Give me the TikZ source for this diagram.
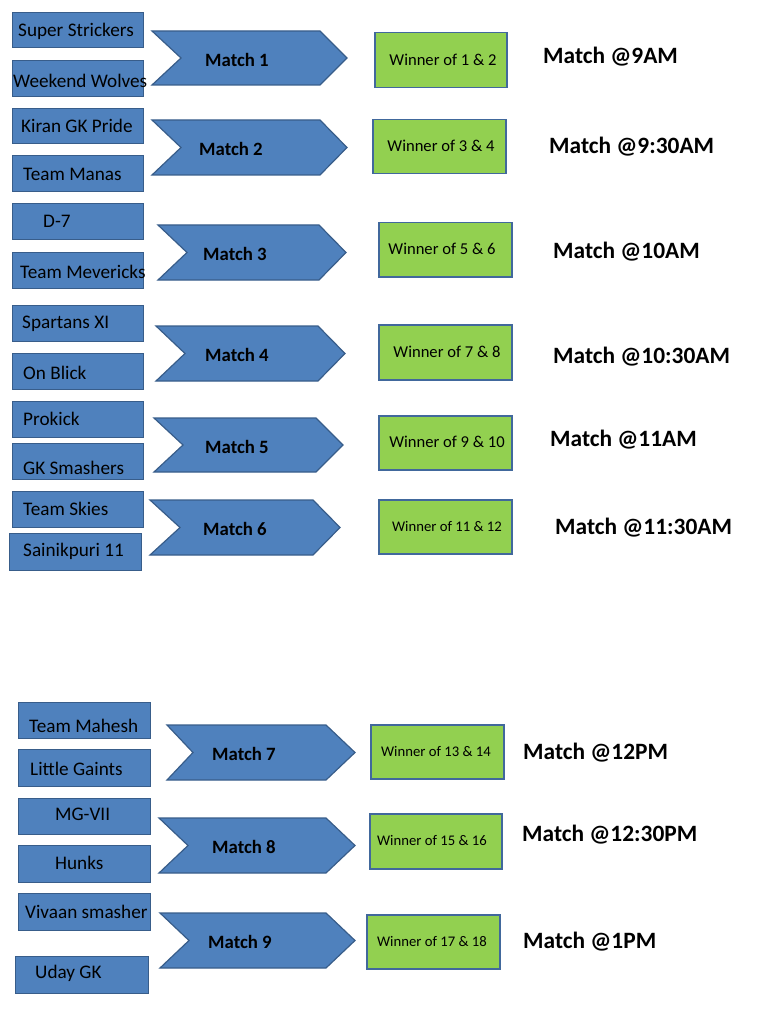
\documentclass[tikz,border=0pt]{standalone}
\usepackage{fontspec}
\setmainfont{Carlito}
\definecolor{tblue}{HTML}{4F81BD}
\definecolor{tborder}{HTML}{385D8A}
\definecolor{tgreen}{HTML}{92D050}
\definecolor{gborder}{HTML}{41689C}
\tikzset{
  teambox/.style={fill=tblue,draw=tborder,line width=1.2pt},
  chev/.style={fill=tblue,draw=tborder,line width=1.2pt,line join=miter},
  winbox/.style={fill=tgreen,draw=gborder,line width=1.5pt},
  teamtxt/.style={anchor=west,inner sep=0pt,yshift=-1.5pt,font=\fontsize{19.2}{21}\selectfont},
  matchtxt/.style={inner sep=0pt,yshift=-1.5pt,font=\bfseries\fontsize{18.8}{21}\selectfont},
  wintxt/.style={inner sep=0pt,font=\fontsize{16.6}{18}\selectfont},
  winsmall/.style={inner sep=0pt,font=\fontsize{14.7}{16}\selectfont},
  timetxt/.style={anchor=west,inner sep=0pt,yshift=-1.5pt,font=\bfseries\fontsize{23.4}{25}\selectfont}
}
% #1 name, #2 x1, #3 y1, #4 x2, #5 y2, #6 text x, #7 text y, #8 text
\newcommand{\teamB}[8]{%
  \node[teambox,minimum width=#4-#2,minimum height=#5-#3,inner sep=0pt,anchor=north west] (#1) at (#2,#3) {};
  \node[teamtxt] (#1t) at (#6,#7) {#8};}
% #1 name, #2 left, #3 top, #4 bottom, #5 notch x, #6 shoulder x, #7 tip x, #8 label x, #9 label
\newcommand{\chevB}[9]{%
  \coordinate (#1a) at (#2,#3);
  \coordinate (#1b) at (#6,#3);
  \coordinate (#1c) at (#7,{(#3+#4)/2});
  \coordinate (#1d) at (#6,#4);
  \coordinate (#1e) at (#2,#4);
  \coordinate (#1f) at (#5,{(#3+#4)/2});
  \draw[chev] (#1a) -- (#1b) -- (#1c) -- (#1d) -- (#1e) -- (#1f) -- cycle;
  \node[matchtxt] (#1t) at (#8,{(#3+#4)/2}) {#9};}
% #1 name, #2 x1, #3 y1, #4 x2, #5 y2, #6 style, #7 text x, #8 text
\newcommand{\winB}[8]{%
  \node[winbox,minimum width=#4-#2,minimum height=#5-#3,inner sep=0pt,anchor=north west] (#1) at (#2,#3) {};
  \node[#6] (#1t) at (#7,{(#3+#5)/2}) {#8};}
\begin{document}
\begin{tikzpicture}[x=1pt,y=-1pt]
\useasboundingbox (0,0) rectangle (768,1024);
% teams
\teamB{t1}{12}{12}{143}{47}{18}{30}{Super Strickers}
\teamB{t2}{12}{60}{143}{96}{13}{79}{Weekend Wolves}
\teamB{t3}{12}{108}{143}{143}{21}{124}{Kiran GK Pride}
\teamB{t4}{12}{155}{143}{191}{23}{173}{Team Manas}
\teamB{t5}{12}{203}{143}{239}{43}{220}{D-7}
\teamB{t6}{12}{252}{143}{288}{20}{270}{Team Mevericks}
\teamB{t7}{12}{305}{143}{341}{22}{322}{Spartans XI}
\teamB{t8}{12}{353}{143}{389}{23}{371}{On Blick}
\teamB{t9}{12}{401}{143}{437}{23}{417}{Prokick}
\teamB{t10}{12}{443}{143}{479}{23}{466}{GK Smashers}
\teamB{t11}{12}{491}{143}{527}{23}{507}{Team Skies}
\teamB{t12}{9}{533}{141}{570}{23}{550}{Sainikpuri 11}
\teamB{t13}{18}{702}{150}{738}{29}{724}{Team Mahesh}
\teamB{t14}{18}{749}{150}{786}{30}{767}{Little Gaints}
\teamB{t15}{18}{798}{150}{834}{55}{813}{MG-VII}
\teamB{t16}{18}{845}{150}{882}{55}{861}{Hunks}
\teamB{t17}{18}{893}{150}{930}{25}{910}{Vivaan smasher}
\teamB{t18}{15}{956}{148}{993}{35}{972}{Uday GK}
% chevrons
\chevB{m1}{152}{31}{85}{181}{320}{347}{237}{Match 1}
\chevB{m2}{152}{120}{175}{181}{320}{347}{231}{Match 2}
\chevB{m3}{158}{225}{280}{187}{319}{346}{235}{Match 3}
\chevB{m4}{156}{326}{381}{185}{318}{345}{237}{Match 4}
\chevB{m5}{154}{418}{472}{183}{316}{343}{237}{Match 5}
\chevB{m6}{150}{500}{555}{180}{313}{340}{235}{Match 6}
\chevB{m7}{167}{725}{780}{193}{326}{355}{244}{Match 7}
\chevB{m8}{159}{818}{873}{188}{326}{355}{244}{Match 8}
\chevB{m9}{160}{913}{968}{189}{326}{355}{240}{Match 9}
% winner boxes
\winB{w1}{374}{32}{506}{87}{wintxt}{443}{Winner of 1 \& 2}
\winB{w2}{372}{119}{505}{173}{wintxt}{441}{Winner of 3 \& 4}
\winB{w3}{378}{222}{511}{276}{wintxt}{442}{Winner of 5 \& 6}
\winB{w4}{378}{324}{511}{379}{wintxt}{447}{Winner of 7 \& 8}
\winB{w5}{378}{415}{511}{469}{wintxt}{447}{Winner of 9 \& 10}
\winB{w6}{378}{499}{511}{553}{winsmall}{447}{Winner of 11 \& 12}
\winB{w7}{370}{724}{503}{778}{winsmall}{436}{Winner of 13 \& 14}
\winB{w8}{369}{813}{501}{868}{winsmall}{432}{Winner of 15 \& 16}
\winB{w9}{366}{914}{499}{968}{winsmall}{432}{Winner of 17 \& 18}
% times
\node[timetxt] (h1) at (543,55) {Match @9AM};
\node[timetxt] (h2) at (549,145) {Match @9:30AM};
\node[timetxt] (h3) at (553,250) {Match @10AM};
\node[timetxt] (h4) at (553,355) {Match @10:30AM};
\node[timetxt] (h5) at (550,438) {Match @11AM};
\node[timetxt] (h6) at (555,526) {Match @11:30AM};
\node[timetxt] (h7) at (523,751) {Match @12PM};
\node[timetxt] (h8) at (522,833) {Match @12:30PM};
\node[timetxt] (h9) at (523,940) {Match @1PM};
\end{tikzpicture}
\end{document}
